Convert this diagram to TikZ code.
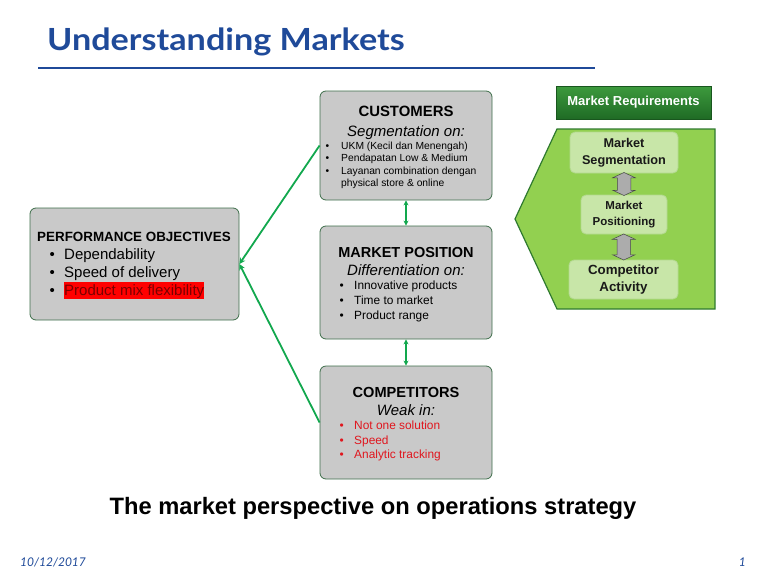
\documentclass[tikz,border=0pt]{standalone}
\usepackage{fontspec}
\setmainfont{Liberation Sans}
\newfontfamily\titlefont{Lato}
\usetikzlibrary{shapes.arrows,arrows.meta,calc}
\definecolor{titleblue}{HTML}{1F4A99}
\definecolor{boxgray}{HTML}{C9C9C9}
\definecolor{boxborder}{HTML}{3E6E4A}
\definecolor{linkgreen}{HTML}{12A84E}
\definecolor{panelgreen}{HTML}{92D050}
\definecolor{panelborder}{HTML}{2F7A2F}
\definecolor{innergreen}{HTML}{C8E6A8}
\definecolor{innerborder}{HTML}{B2D98E}
\definecolor{hdrtop}{HTML}{3D9A3D}
\definecolor{hdrbot}{HTML}{1F6B25}
\definecolor{compred}{HTML}{E0161E}
\definecolor{hlred}{HTML}{FF0000}
\definecolor{hltext}{HTML}{7A0000}
\newcommand{\bul}[2]{\makebox[#1][l]{\textbullet}#2}
\newcommand{\hlstrut}{\rule[-0.21em]{0pt}{1.12em}}
\setlength{\fboxsep}{0pt}
\begin{document}
\begin{tikzpicture}[x=1pt,y=-1pt,
  graybox/.style={draw=boxborder, line width=0.8pt, fill=boxgray, rounded corners=6pt, inner sep=0pt},
  link/.style={draw=linkgreen, line width=1.8pt, -{Stealth[length=6pt,width=6pt]}},
  vlink/.style={draw=linkgreen, line width=1.2pt, {Stealth[length=5pt,width=5pt]}-{Stealth[length=5pt,width=5pt]}},
  txt/.style={inner sep=0pt, anchor=base},
  item/.style={inner sep=0pt, anchor=base west},
  hdr/.style={draw=hdrbot!80!black, line width=0.6pt, top color=hdrtop, bottom color=hdrbot, text=white, minimum width=155pt, minimum height=33pt, inner sep=0pt, font=\bfseries\fontsize{13}{16}\selectfont},
  innerbox/.style={draw=innerborder, line width=0.8pt, fill=innergreen, rounded corners=5pt, align=center, inner sep=0pt, text=black!90},
  grayarrow/.style={double arrow, shape border rotate=90, draw=gray!55!black, line width=0.5pt, fill=gray!65, inner sep=6.5pt, double arrow head extend=4.5pt, double arrow tip angle=130}
]
\useasboundingbox (0,0) rectangle (768,576);

% title
\node[item, font=\titlefont\bfseries\fontsize{30.5}{36}\selectfont, text=titleblue] (title) at (47,50) {\scalebox{1.12}[1]{Understanding Markets}};
\draw[titleblue, line width=2pt] (38,68) -- (595,68);

% performance objectives
\node[graybox, minimum width=209pt, minimum height=112pt] (perf) at (134.5,264) {};
\node[item, font=\bfseries\fontsize{13.4}{16}\selectfont] (perfh) at (37,241.8) {PERFORMANCE OBJECTIVES};
\node[item, font=\fontsize{15}{18}\selectfont] (perf1) at (49.5,259.5) {\bul{14.5pt}{Dependability}};
\node[item, font=\fontsize{15}{18}\selectfont] (perf2) at (49.5,277.5) {\bul{14.5pt}{Speed of delivery}};
\node[item, font=\fontsize{15}{18}\selectfont] (perf3) at (49.5,295.5) {\bul{14.5pt}{\colorbox{hlred}{\hlstrut\textcolor{hltext}{Product mix flexibility}}}};

% customers
\node[graybox, minimum width=172pt, minimum height=109pt] (cust) at (406,145.5) {};
\node[txt, font=\bfseries\fontsize{14.9}{18}\selectfont] (custh) at (406,116.5) {CUSTOMERS};
\node[txt, font=\itshape\fontsize{15}{18}\selectfont] (custs) at (406,136.5) {Segmentation on:};
\node[item, font=\fontsize{10.3}{12}\selectfont] (cust1) at (325.5,149) {\bul{15.5pt}{UKM (Kecil dan Menengah)}};
\node[item, font=\fontsize{10.3}{12}\selectfont] (cust2) at (325.5,161.5) {\bul{15.5pt}{Pendapatan Low \& Medium}};
\node[item, font=\fontsize{10.3}{12}\selectfont] (cust3) at (325.5,174) {\bul{15.5pt}{Layanan combination dengan}};
\node[item, font=\fontsize{10.3}{12}\selectfont] (cust4) at (341,186.5) {physical store \& online};

% market position
\node[graybox, minimum width=172pt, minimum height=113pt] (mpos) at (406,282.5) {};
\node[txt, font=\bfseries\fontsize{14.5}{18}\selectfont] (mposh) at (406,257.5) {MARKET POSITION};
\node[txt, font=\itshape\fontsize{15}{18}\selectfont] (mposs) at (406,275) {Differentiation on:};
\node[item, font=\fontsize{11.9}{14}\selectfont] (mpos1) at (339.5,289.5) {\bul{14.5pt}{Innovative products}};
\node[item, font=\fontsize{11.9}{14}\selectfont] (mpos2) at (339.5,304.5) {\bul{14.5pt}{Time to market}};
\node[item, font=\fontsize{11.9}{14}\selectfont] (mpos3) at (339.5,319) {\bul{14.5pt}{Product range}};

% competitors
\node[graybox, minimum width=172pt, minimum height=113pt] (comp) at (406,422.5) {};
\node[txt, font=\bfseries\fontsize{14.6}{18}\selectfont] (comph) at (406,397.3) {COMPETITORS};
\node[txt, font=\itshape\fontsize{15}{18}\selectfont] (comps) at (406,415) {Weak in:};
\node[item, font=\fontsize{11.9}{14}\selectfont, text=compred] (comp1) at (339.5,429.5) {\bul{14.5pt}{Not one solution}};
\node[item, font=\fontsize{11.9}{14}\selectfont, text=compred] (comp2) at (339.5,444.5) {\bul{14.5pt}{Speed}};
\node[item, font=\fontsize{11.9}{14}\selectfont, text=compred] (comp3) at (339.5,458.5) {\bul{14.5pt}{Analytic tracking}};

% connectors
\draw[link] (cust.west) -- (perf.east);
\draw[link] (comp.west) -- (perf.east);
\draw[vlink] (cust.south) -- (mpos.north);
\draw[vlink] (mpos.south) -- (comp.north);

% market requirements panel
\node[hdr] (mr) at (633.5,102.5) {Market Requirements};
\draw[fill=panelgreen, draw=panelborder, line width=1.2pt] (515,219) -- (557,129) -- (715,129) -- (715,309) -- (557,309) -- cycle;
\node[innerbox, minimum width=108pt, minimum height=41pt, font=\bfseries\fontsize{12.7}{17}\selectfont] (ms) at (624,152.5) {Market\\Segmentation};
\node[innerbox, minimum width=86pt, minimum height=39pt, font=\bfseries\fontsize{11.5}{15.5}\selectfont] (mp) at (624,214.5) {Market\\Positioning};
\node[innerbox, minimum width=109pt, minimum height=39pt, font=\bfseries\fontsize{13.3}{17}\selectfont] (ca) at (623.5,279.5) {Competitor\\Activity};
\node[grayarrow, minimum height=23pt] (ga1) at ($(ms.south)!0.5!(mp.north)$) {};
\node[grayarrow, minimum height=26pt] (ga2) at ($(mp.south)!0.5!(ca.north)$) {};

% caption and footer
\node[txt, font=\bfseries\fontsize{23.7}{28}\selectfont] (caption) at (373,514) {The market perspective on operations strategy};
\node[item, font=\titlefont\itshape\fontsize{12}{14}\selectfont, text=titleblue] (date) at (20,566) {10/12/2017};
\node[inner sep=0pt, anchor=base east, font=\titlefont\itshape\fontsize{12}{14}\selectfont, text=titleblue] (page) at (746,566) {1};
\end{tikzpicture}
\end{document}
